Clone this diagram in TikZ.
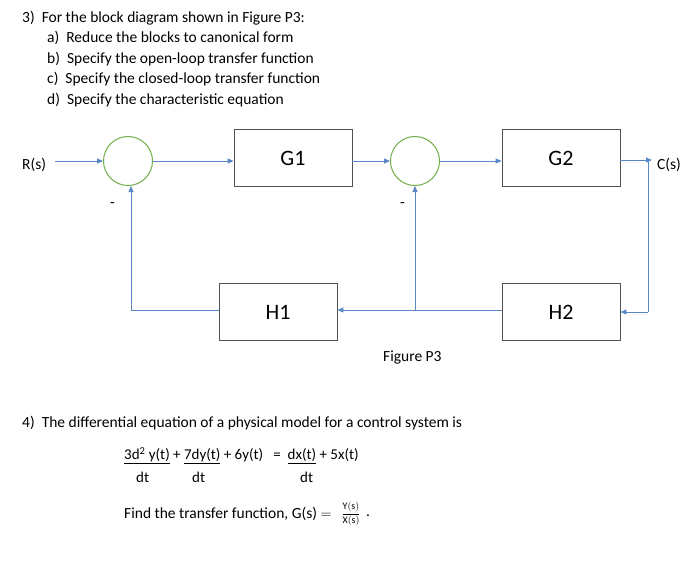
\documentclass[tikz,border=0pt]{standalone}
\usepackage{fontspec}
\setmainfont{Carlito}
\usetikzlibrary{arrows.meta}
\begin{document}
\begin{tikzpicture}[x=1pt,y=-1pt,
  sig/.style={draw={rgb,255:red,91;green,135;blue,200},line width=0.8pt,-{Triangle[length=6pt,width=5pt]}},
  ln/.style={draw={rgb,255:red,91;green,135;blue,200},line width=0.8pt},
  blk/.style={draw={rgb,255:red,80;green,80;blue,80},line width=0.8pt,minimum width=118pt,minimum height=57pt,font=\fontsize{22}{26}\selectfont},
  sum/.style={circle,draw={rgb,255:red,112;green,173;blue,71},line width=1pt,minimum size=49pt,inner sep=0pt},
  txt/.style={anchor=west,inner sep=0pt,font=\fontsize{15.5}{18}\selectfont},
  eqt/.style={anchor=west,inner sep=0pt,font=\fontsize{15}{18}\selectfont}]
\useasboundingbox (0,0) rectangle (700,574);
\node[txt] (q3) at (22,18) {3)\ \ For the block diagram shown in Figure P3:};
\node[txt] (qa) at (47,38) {a)\ \ Reduce the blocks to canonical form};
\node[txt] (qb) at (47,59) {b)\ \ Specify the open-loop transfer function};
\node[txt] (qc) at (47,79) {c)\ \ Specify the closed-loop transfer function};
\node[txt] (qd) at (47,100) {d)\ \ Specify the characteristic equation};

\node[txt] (R) at (22,165) {R(s)};
\coordinate (rin) at (55,161);
\node[sum] (s1) at (128,161) {};
\node[blk] (G1) at (293,158) {G1};
\node[sum] (s2) at (415,161) {};
\node[blk] (G2) at (561,158) {G2};
\node[blk] (H1) at (278,312) {H1};
\node[blk] (H2) at (561,312) {H2};
\node[txt] (C) at (657,165) {C(s)};
\coordinate (cout) at (652,160);
\coordinate (cb) at (648,160);
\coordinate (cb2) at (648,312);
\coordinate (h1l) at (131,310);
\coordinate (br) at (415,310);
\node[txt] (m1) at (110,205) {-};
\node[txt] (m2) at (400,205) {-};

\draw[sig] (rin) -- (s1.west);
\draw[sig] (s1.east) -- (G1.west |- s1.east);
\draw[sig] (G1.east |- s2.west) -- (s2.west);
\draw[sig] (s2.east) -- (G2.west |- s2.east);
\draw[sig] (G2.east |- cout) -- (cout);
\draw[ln] (cb) -- (cb2);
\draw[sig] (cb2) -- (H2.east |- cb2);
\draw[sig] (H2.west |- br) -- (H1.east |- br);
\draw[sig] (br) -- (s2.south);
\draw[ln] (H1.west |- h1l) -- (h1l);
\draw[sig] (h1l) -- (h1l |- s1.south);

\node[txt] (fig) at (383,357) {Figure P3};
\node[txt] (q4) at (22,423) {4)\ \ The differential equation of a physical model for a control system is};
\node[eqt] (eq) at (124,456) {\underline{3d\textsuperscript{2} y(t)}\ +\ \underline{7dy(t)}\ +\ 6y(t)\ \ \ =\ \ \underline{dx(t)}\ +\ 5x(t)};
\node[eqt] (dt1) at (136,477) {dt};
\node[eqt] (dt2) at (192,477) {dt};
\node[eqt] (dt3) at (300,477) {dt};
\node[txt] (find) at (124,514) {Find the transfer function, G(s) $=$};
\node[inner sep=0pt,font=\fontsize{10}{12}\selectfont] (frac) at (351,514) {$\displaystyle\frac{\mathrm{Y(s)}}{\mathrm{X(s)}}$};
\node[txt] (dot) at (366,516) {.};
\end{tikzpicture}
\end{document}
